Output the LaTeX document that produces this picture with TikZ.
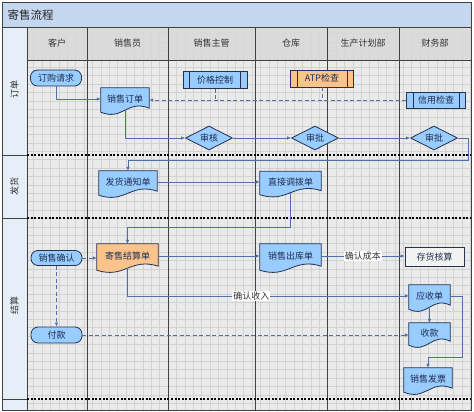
\documentclass[tikz,border=0pt]{standalone}
\usepackage{fontspec}
\setmainfont{Noto Sans CJK SC}
\usetikzlibrary{shapes.geometric,arrows.meta,calc}
\pgfdeclarelayer{bg}
\pgfdeclarelayer{docs}
\pgfsetlayers{bg,docs,main}
\definecolor{bgc}{RGB}{234,234,234}
\definecolor{gridc}{RGB}{210,210,210}
\definecolor{titlec}{RGB}{197,215,239}
\definecolor{headc}{RGB}{217,217,217}
\definecolor{phasec}{RGB}{230,238,248}
\definecolor{lanec}{RGB}{64,64,64}
\definecolor{blueF}{RGB}{153,204,255}
\definecolor{orangeF}{RGB}{252,196,140}
\definecolor{grayF}{RGB}{242,242,242}
\definecolor{edgec}{RGB}{35,50,80}
\definecolor{txtc}{RGB}{30,45,80}
\definecolor{flowc}{RGB}{79,110,170}
\tikzset{
  nodeline/.style={draw=edgec, line width=0.8pt},
  term/.style={nodeline, fill=blueF, rounded corners=7pt, minimum width=51pt, minimum height=16pt, inner sep=1pt, text=txtc, font=\fontsize{9}{10}\selectfont},
  predef/.style={nodeline, fill=blueF, minimum height=17pt, inner sep=1pt, text=txtc, font=\fontsize{9}{10}\selectfont},
  docn/.style={inner sep=1pt, text=txtc, font=\fontsize{9}{10}\selectfont},
  dia/.style={nodeline, fill=blueF, diamond, aspect=2, minimum width=47pt, minimum height=24pt, inner sep=0.5pt, text=txtc, font=\fontsize{9}{10}\selectfont},
  plainbox/.style={nodeline, fill=grayF, minimum width=59pt, minimum height=19pt, inner sep=1pt, text=txtc, font=\fontsize{9}{10}\selectfont},
  flow/.style={draw=flowc, line width=0.7pt, -{Latex[length=4pt,width=3.5pt]}},
  dflow/.style={flow, dashed, dash pattern=on 4pt off 2.5pt},
  dline/.style={draw=flowc, line width=0.7pt, dashed, dash pattern=on 4pt off 2.5pt},
  lbl/.style={fill=white, inner sep=1pt, text=black!80, font=\fontsize{9}{10}\selectfont},
  headtxt/.style={text=black!80, font=\fontsize{9}{10}\selectfont},
  phasetxt/.style={text=black!80, rotate=90, font=\fontsize{9}{10}\selectfont},
  lane/.style={draw=lanec, line width=0.8pt},
  phaseline/.style={draw=black, line width=1.6pt, dash pattern=on 2pt off 1.6pt}
}
\newcommand{\docshape}[2]{%
  \begin{pgfonlayer}{docs}
  \draw[nodeline, fill=#2] (#1.north west) -- (#1.north east) -- ($(#1.south east)+(0,-2)$)
    .. controls ($(#1.south east)!0.45!(#1.south west)+(0,-11)$) and ($(#1.south west)!0.45!(#1.south east)+(0,11)$) .. ($(#1.south west)+(0,2)$) -- cycle;
  \end{pgfonlayer}}
\newcommand{\predeflines}[1]{%
  \draw[nodeline] ([xshift=7pt]#1.north west) -- ([xshift=7pt]#1.south west);
  \draw[nodeline] ([xshift=-7pt]#1.north east) -- ([xshift=-7pt]#1.south east);}
\begin{document}
\begin{tikzpicture}[x=1pt,y=-1pt]
\useasboundingbox (0,0) rectangle (474,412);
\begin{pgfonlayer}{bg}
  \fill[bgc] (2,3) rectangle (471,410);
  \draw[gridc, line width=0.4pt, step=8.4pt] (27,27) grid (471,410);
  \fill[headc, opacity=0.85] (27,27) rectangle (471,60);
  \fill[phasec] (2,27) rectangle (27,410);
  \fill[titlec] (2,3) rectangle (471,27);
  % lanes
  \foreach \xx in {87,168,255,327,399} \draw[lane] (\xx,27) -- (\xx,410);
  \draw[lane] (27,27) -- (27,410);
  \draw[lane] (27,60) -- (471,60);
  \draw[lane] (2,27) -- (471,27);
  \foreach \yy in {155,218,399} {
    \draw[lane] (2,\yy) -- (27,\yy);
    \draw[phaseline] (27,\yy) -- (471,\yy);
  }
  \draw[lanec, line width=1pt] (2,3) rectangle (471,410);
\end{pgfonlayer}
% title and headers
\node[anchor=west, text=black!85, font=\fontsize{11.5}{13}\selectfont] (title) at (4,15) {寄售流程};
\node[headtxt] (h1) at (57,43.5) {客户};
\node[headtxt] (h2) at (127.5,43.5) {销售员};
\node[headtxt] (h3) at (211.5,43.5) {销售主管};
\node[headtxt] (h4) at (291,43.5) {仓库};
\node[headtxt] (h5) at (363,43.5) {生产计划部};
\node[headtxt] (h6) at (435,43.5) {财务部};
\node[phasetxt] (p1) at (14.5,90) {订单};
\node[phasetxt] (p2) at (14.5,186) {发货};
\node[phasetxt] (p3) at (14.5,305) {结算};
% nodes
\node[term] (req) at (56,78) {订购请求};
\node[predef, minimum width=64pt] (price) at (215,80) {价格控制};
\predeflines{price}
\node[predef, fill=orangeF, minimum width=63pt] (atp) at (322,78.5) {ATP检查};
\predeflines{atp}
\node[predef, minimum width=59pt, minimum height=16pt] (credit) at (436,100) {信用检查};
\predeflines{credit}
\node[docn, minimum width=48pt, minimum height=22pt] (so) at (125,99) {销售订单};
\docshape{so}{blueF}
\node[dia] (shenhe) at (209,138) {审核};
\node[dia] (sp1) at (315,138) {审批};
\node[dia] (sp2) at (434,138) {审批};
\node[docn, minimum width=58pt, minimum height=22pt] (fh) at (128,182) {发货通知单};
\docshape{fh}{blueF}
\node[docn, minimum width=61pt, minimum height=21pt] (zj) at (290.5,182) {直接调拨单};
\docshape{zj}{blueF}
\node[docn, minimum width=61pt, minimum height=24pt] (js) at (127.5,256) {寄售结算单};
\docshape{js}{orangeF}
\node[docn, minimum width=61pt, minimum height=24pt] (ck) at (290.5,256) {销售出库单};
\docshape{ck}{blueF}
\node[plainbox] (ch) at (434.5,257) {存货核算};
\node[term, minimum height=15pt] (confirm) at (56.5,258) {销售确认};
\node[term] (pay) at (56.5,335) {付款};
\node[docn, minimum width=41pt, minimum height=22pt] (ys) at (429.5,296) {应收单};
\docshape{ys}{blueF}
\node[docn, minimum width=41pt, minimum height=20pt] (sk) at (429.5,333) {收款};
\docshape{sk}{blueF}
\node[docn, minimum width=48pt, minimum height=22pt] (fp) at (428,379) {销售发票};
\docshape{fp}{blueF}
% connectors
\draw[flow] (req.south) |- (so.west);
\draw[dflow] (credit.west) -- (credit.west -| so.east);
\draw[dline] (price.south) -- (price.south |- credit.west);
\draw[dline] (atp.south) -- (atp.south |- credit.west);
\draw[flow] (so.south) |- (shenhe.west);
\draw[flow] (shenhe.east) -- (sp1.west);
\draw[flow] (sp1.east) -- (sp2.west);
\coordinate (c1) at (468,160);
\draw[flow] (sp2.east) -| (c1) -| (fh.north);
\draw[flow] (fh.east) -- (zj.west);
\coordinate (c2) at (290.5,227);
\draw[flow] (zj.south) -- (c2) -| (js.north);
\draw[dflow] (confirm.east) -- (confirm.east -| js.west);
\draw[flow] (js.east) -- (ck.west);
\draw[flow] (ck.east) -- node[lbl] (lb1) {确认成本} (ck.east -| ch.west);
\draw[flow] (js.south) |- node[lbl, pos=0.72] (lb2) {确认收入} (ys.west);
\draw[dflow] (confirm.south) -- (pay.north);
\draw[dflow] (pay.east) -- (pay.east -| sk.west);
\draw[flow] (ys.south) -- (sk.north);
\coordinate (c3) at (462,357);
\draw[flow] (ys.east) -| (c3) -| (fp.north);
\end{tikzpicture}
\end{document}
